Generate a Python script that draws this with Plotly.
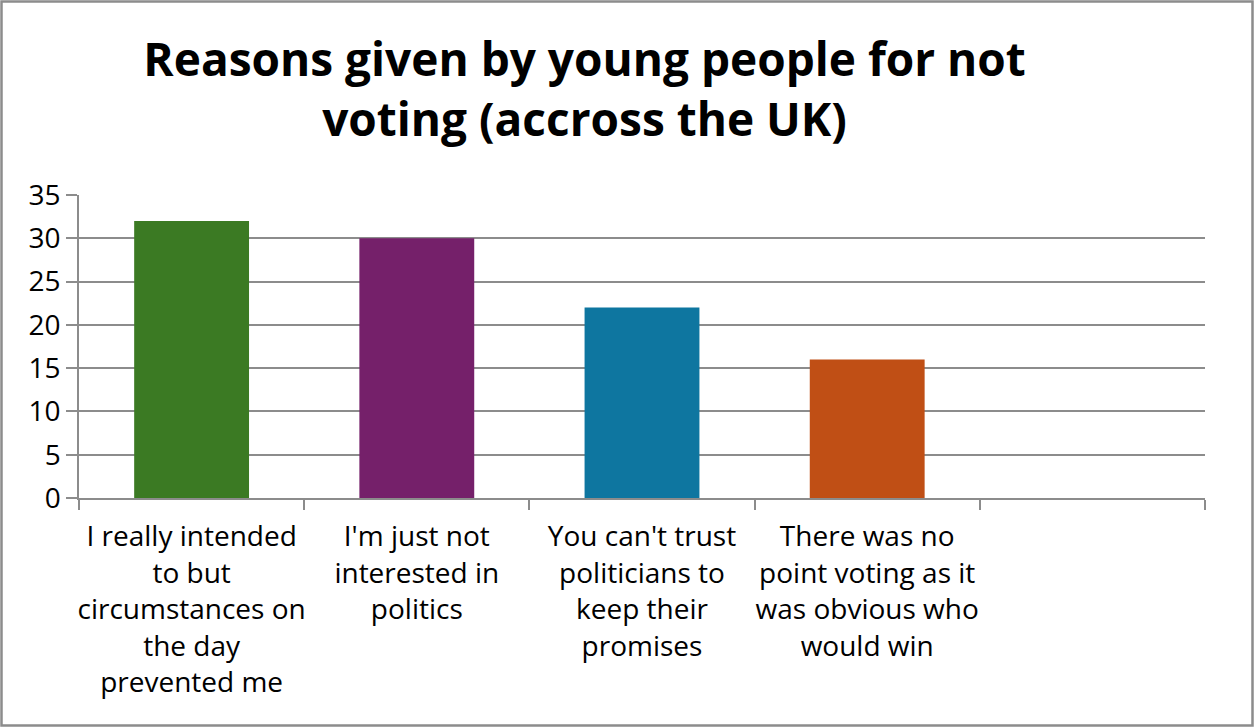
import plotly.graph_objects as go

categories = [
    "I really intended<br>to but<br>circumstances on<br>the day<br>prevented me",
    "I'm just not<br>interested in<br>politics",
    "You can't trust<br>politicians to<br>keep their<br>promises",
    "There was no<br>point voting as it<br>was obvious who<br>would win",
    " ",
]
values = [32, 30, 22, 16, None]
colors = ["#3B7A23", "#75206A", "#0E76A0", "#C04F15", "#FFFFFF"]
y_ticks = [0, 5, 10, 15, 20, 25, 30, 35]

W, H = 1254, 727
L, R, T, B = 79, 49, 195, 229
pw, ph = W - L - R, H - T - B

FONT = "Open Sans, sans-serif"

fig = go.Figure(go.Bar(
    x=categories, y=values, marker=dict(color=colors, line=dict(width=0)),
    width=0.51,
))

fig.update_layout(
    width=W, height=H,
    margin=dict(l=L, r=R, t=T, b=B),
    paper_bgcolor="white", plot_bgcolor="white",
    showlegend=False,
    title=dict(
        text="<b>Reasons given by young people for not<br>voting (accross the UK)</b>",
        x=0.449, xanchor="center", xref="paper",
        y=1 - 76 / H, yanchor="top", yref="container",
        font=dict(family=FONT, size=46, color="black"),
    ),
    font=dict(family=FONT, color="black"),
)

fig.update_xaxes(
    type="category", categoryorder="array", categoryarray=categories,
    range=[-0.5, 4.5], tickson="boundaries", ticks="outside", ticklen=10,
    tickcolor="#8C8C8C", tickwidth=1.5,
    showline=True, linecolor="#8C8C8C", linewidth=1.5,
    showgrid=False, tickangle=0, ticklabelstandoff=13,
    tickfont=dict(family=FONT, size=28, color="black"),
)
fig.update_yaxes(
    range=[0, 35], tickvals=y_ticks, ticks="outside", ticklen=11,
    tickcolor="#8C8C8C", tickwidth=1.5,
    showline=True, linecolor="#8C8C8C", linewidth=1.5,
    showgrid=True, gridcolor="#8C8C8C", gridwidth=1.5,
    zeroline=False,
    tickfont=dict(family=FONT, size=28, color="black"),
)

# outer chart border
fig.add_shape(
    type="rect", xref="paper", yref="paper",
    x0=(1.5 - L) / pw, x1=(W - 1.5 - L) / pw,
    y0=(T + ph - (H - 1.5)) / ph, y1=(T + ph - 1.5) / ph,
    line=dict(color="#8C8C8C", width=2.5), fillcolor="rgba(0,0,0,0)",
    layer="below",
)

fig.write_html("out.html")
